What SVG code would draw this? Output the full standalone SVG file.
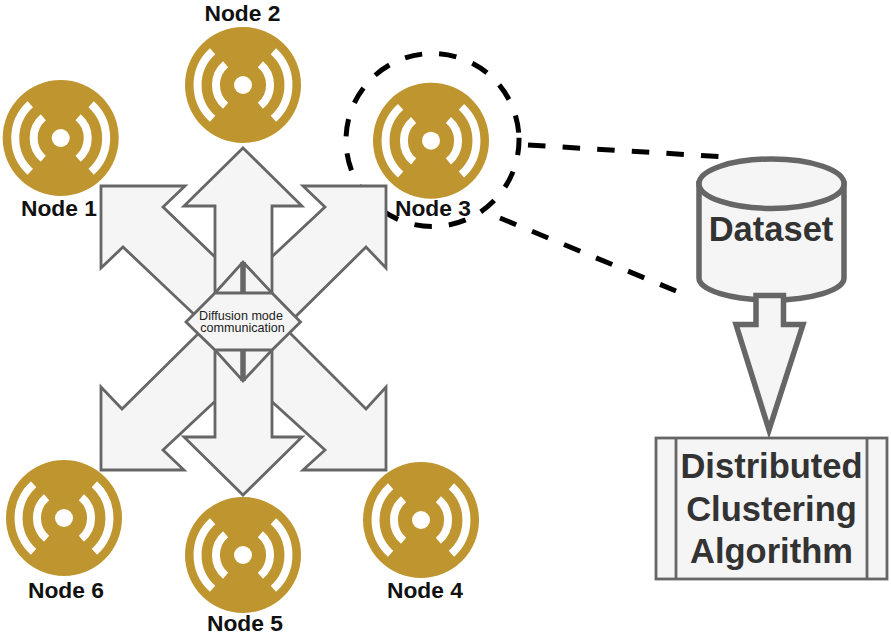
<svg xmlns="http://www.w3.org/2000/svg" width="891" height="636" viewBox="0 0 891 636">
<style>
.lbl{font-family:"Liberation Sans",Arial,sans-serif;font-weight:bold;font-size:22.800px;fill:#111;text-anchor:middle}
.big{font-family:"Liberation Sans",Arial,sans-serif;font-weight:bold;font-size:34.500px;fill:#333;text-anchor:middle}
.small{font-family:"Liberation Sans",Arial,sans-serif;font-size:12.600px;fill:#222;text-anchor:middle}
.shape{fill:#f5f5f5;stroke:#666;stroke-width:2.8}
.thick{fill:#f5f5f5;stroke:#666;stroke-width:5.500}
.dash{fill:none;stroke:#000;stroke-width:5;stroke-dasharray:17.5 17.16}
.wave{fill:none;stroke:#fff;stroke-width:8}
</style>
<defs>
<g id="icon">
<circle r="58" fill="#bf952f"/>
<circle r="9" fill="#fff"/>
<path class="wave" d="M-17.4-20.7A27 27 0 0 0-17.4 20.7M17.4-20.7A27 27 0 0 1 17.4 20.7M-30.4-33.8A45.5 45.5 0 0 0-30.4 33.8M30.4-33.8A45.5 45.5 0 0 1 30.4 33.8"/>
</g>
</defs>
<g id="connectors">
<circle class="dash" cx="432.5" cy="140" r="86.5" transform="rotate(-1.5 432.5 140)"/>
<path class="dash" d="M528 145L719 156.5"/>
<path class="dash" d="M500 218L676 291"/>
<g id="diffusion-arrows">
<polygon class="shape" points="101,186 185,186 163,207 240,281 240,322 200,320 123,247 101,268"/>
<polygon class="shape" points="386,186 303,186 325,207 246,281 246,322 287,325 366,247 386,268"/>
<polygon class="shape" points="101,470 184,470 163,450 240,378 240,322 205,327 122,409 101,387"/>
<polygon class="shape" points="386,470 303,470 325,450 246,378 246,322 283,326 366,409 386,387"/>
<polygon class="shape" points="215,340 272,340 272,437 302,437 243,495 184,437 215,437"/>
<polygon class="shape" points="243,148 302,206 272,206 272,300 215,300 215,206 184,206"/>
<path class="shape" d="M215 293L243 262L272 293M215 350L243 381L272 350"/>
<path d="M243 262V293M243 350V381" fill="none" stroke="#666" stroke-width="5.5"/>
</g>
</g>
<g id="center">
<polygon class="shape" points="186,322 215,293 272,293 300.5,322 272,350 215,350"/>
<text class="small" x="241" y="319.500">Diffusion mode</text>
<text class="small" x="242.500" y="332">communication</text>
</g>
<g id="node1"><use href="#icon" x="60.700" y="138"/><text class="lbl" x="59" y="216">Node 1</text></g>
<g id="node2"><use href="#icon" x="243" y="85"/><text class="lbl" x="242.500" y="20.800">Node 2</text></g>
<g id="node3"><use href="#icon" x="431" y="140.700"/><text class="lbl" x="433" y="216">Node 3</text></g>
<g id="node4"><use href="#icon" x="421" y="520"/><text class="lbl" x="425" y="598">Node 4</text></g>
<g id="node5"><use href="#icon" x="243" y="555"/><text class="lbl" x="245" y="631">Node 5</text></g>
<g id="node6"><use href="#icon" x="64" y="518"/><text class="lbl" x="66" y="598">Node 6</text></g>
<g id="dataset">
<path class="thick" d="M699 183.700V278A72.500 22 0 0 0 844 278V183.700Z"/>
<ellipse class="thick" cx="771.500" cy="183.700" rx="72.500" ry="24.700"/>
<text class="big" x="771" y="241">Dataset</text>
</g>
<g id="flow-arrow">
<polygon class="thick" points="756,295.500 783.500,295.500 783.500,324.500 803,324.500 769,430 736,324.500 756,324.500"/>
</g>
<g id="algorithm">
<rect class="shape" x="656" y="438" width="231" height="141"/>
<path class="shape" d="M676 438V579M867 438V579"/>
<text class="big" x="771.500" y="478">Distributed</text>
<text class="big" x="771.500" y="521">Clustering</text>
<text class="big" x="771.500" y="563">Algorithm</text>
</g>
</svg>
